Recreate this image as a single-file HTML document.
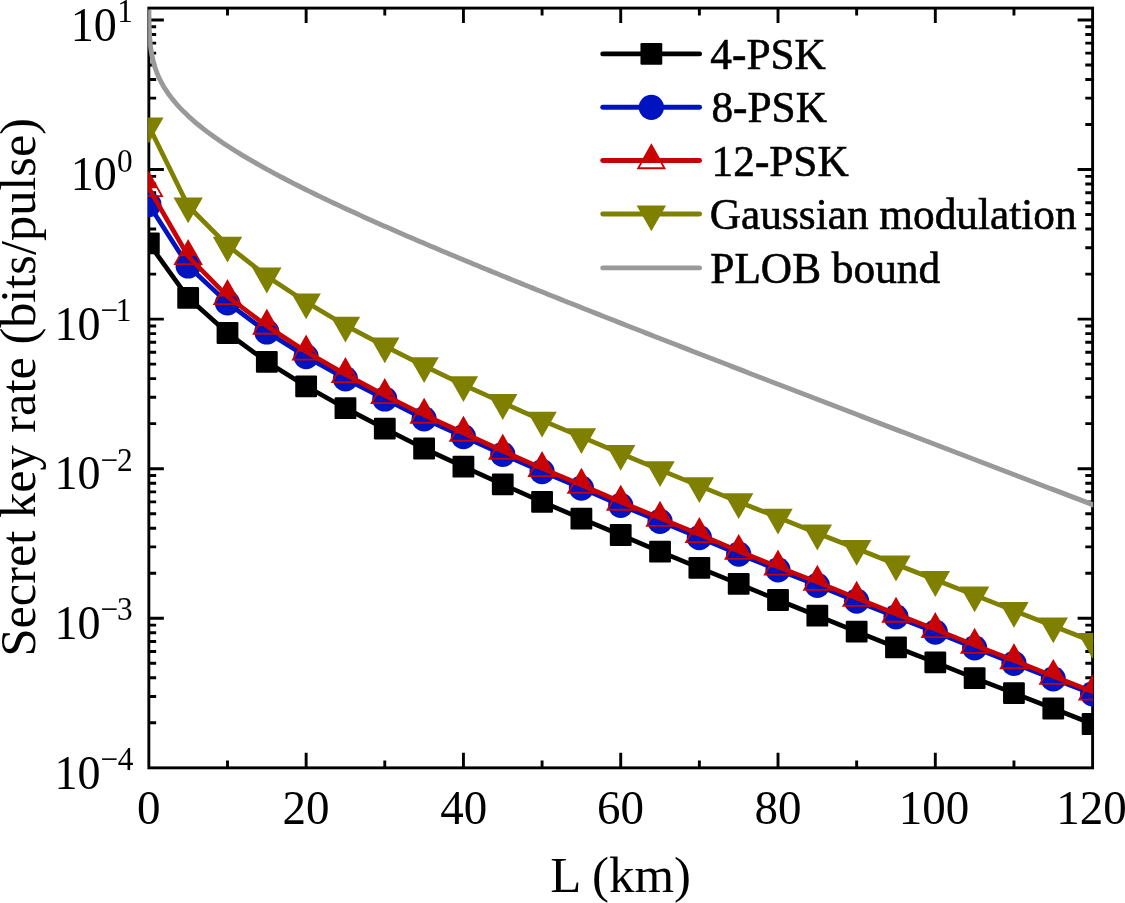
<!DOCTYPE html>
<html><head><meta charset="utf-8"><title>Secret key rate vs L</title>
<style>html,body{margin:0;padding:0;background:#fff;width:1125px;height:903px;overflow:hidden}svg{display:block}text{font-family:"Liberation Serif","Times New Roman",serif;fill:#000}</style>
</head><body>
<svg width="1125" height="903" viewBox="0 0 1125 903">
<rect width="1125" height="903" fill="#fff"/>
<defs><clipPath id="c"><rect x="148.1" y="9.5" width="945.1" height="757.9"/></clipPath></defs>
<path d="M227.5 767.85v-7.3 M227.5 8.1v7.3 M306.14 767.85v-15 M306.14 8.1v15 M384.79 767.85v-7.3 M384.79 8.1v7.3 M463.43 767.85v-15 M463.43 8.1v15 M542.08 767.85v-7.3 M542.08 8.1v7.3 M620.72 767.85v-15 M620.72 8.1v15 M699.37 767.85v-7.3 M699.37 8.1v7.3 M778.02 767.85v-15 M778.02 8.1v15 M856.66 767.85v-7.3 M856.66 8.1v7.3 M935.31 767.85v-15 M935.31 8.1v15 M1013.95 767.85v-7.3 M1013.95 8.1v7.3 M148.85 722.82h7.3 M1092.6 722.82h-7.3 M148.85 696.48h7.3 M1092.6 696.48h-7.3 M148.85 677.79h7.3 M1092.6 677.79h-7.3 M148.85 663.3h7.3 M1092.6 663.3h-7.3 M148.85 651.45h7.3 M1092.6 651.45h-7.3 M148.85 641.44h7.3 M1092.6 641.44h-7.3 M148.85 632.76h7.3 M1092.6 632.76h-7.3 M148.85 625.11h7.3 M1092.6 625.11h-7.3 M148.85 618.27h15 M1092.6 618.27h-15 M148.85 573.24h7.3 M1092.6 573.24h-7.3 M148.85 546.9h7.3 M1092.6 546.9h-7.3 M148.85 528.21h7.3 M1092.6 528.21h-7.3 M148.85 513.72h7.3 M1092.6 513.72h-7.3 M148.85 501.87h7.3 M1092.6 501.87h-7.3 M148.85 491.86h7.3 M1092.6 491.86h-7.3 M148.85 483.18h7.3 M1092.6 483.18h-7.3 M148.85 475.53h7.3 M1092.6 475.53h-7.3 M148.85 468.69h15 M1092.6 468.69h-15 M148.85 423.66h7.3 M1092.6 423.66h-7.3 M148.85 397.32h7.3 M1092.6 397.32h-7.3 M148.85 378.63h7.3 M1092.6 378.63h-7.3 M148.85 364.13h7.3 M1092.6 364.13h-7.3 M148.85 352.29h7.3 M1092.6 352.29h-7.3 M148.85 342.28h7.3 M1092.6 342.28h-7.3 M148.85 333.6h7.3 M1092.6 333.6h-7.3 M148.85 325.95h7.3 M1092.6 325.95h-7.3 M148.85 319.11h15 M1092.6 319.11h-15 M148.85 274.08h7.3 M1092.6 274.08h-7.3 M148.85 247.74h7.3 M1092.6 247.74h-7.3 M148.85 229.05h7.3 M1092.6 229.05h-7.3 M148.85 214.55h7.3 M1092.6 214.55h-7.3 M148.85 202.71h7.3 M1092.6 202.71h-7.3 M148.85 192.7h7.3 M1092.6 192.7h-7.3 M148.85 184.02h7.3 M1092.6 184.02h-7.3 M148.85 176.37h7.3 M1092.6 176.37h-7.3 M148.85 169.53h15 M1092.6 169.53h-15 M148.85 124.5h7.3 M1092.6 124.5h-7.3 M148.85 98.16h7.3 M1092.6 98.16h-7.3 M148.85 79.47h7.3 M1092.6 79.47h-7.3 M148.85 64.97h7.3 M1092.6 64.97h-7.3 M148.85 53.13h7.3 M1092.6 53.13h-7.3 M148.85 43.11h7.3 M1092.6 43.11h-7.3 M148.85 34.44h7.3 M1092.6 34.44h-7.3 M148.85 26.79h7.3 M1092.6 26.79h-7.3 M148.85 19.94h15 M1092.6 19.94h-15" fill="none" stroke="#000" stroke-width="2.9"/><rect x="148.85" y="8.1" width="943.75" height="759.75" fill="none" stroke="#000" stroke-width="2.9"/>
<g clip-path="url(#c)"><polyline points="148.89,6.83 148.89,7.31 148.89,7.78 148.89,8.27 148.9,8.75 148.9,9.24 148.9,9.73 148.9,10.23 148.91,10.73 148.91,11.23 148.92,11.74 148.92,12.25 148.92,12.77 148.93,13.29 148.93,13.81 148.94,14.34 148.95,14.87 148.95,15.41 148.96,15.95 148.96,16.5 148.97,17.05 148.98,17.61 148.99,18.17 149,18.73 149.01,19.3 149.02,19.88 149.03,20.46 149.04,21.04 149.05,21.63 149.06,22.23 149.08,22.83 149.09,23.44 149.11,24.05 149.12,24.67 149.14,25.3 149.16,25.93 149.18,26.56 149.2,27.21 149.22,27.86 149.24,28.51 149.44,32.95 149.63,36.29 149.83,39.02 150.02,41.33 150.21,43.36 150.41,45.16 150.6,46.8 150.8,48.29 150.99,49.68 151.18,50.97 151.38,52.18 151.57,53.32 151.77,54.4 151.96,55.42 152.16,56.4 152.35,57.34 152.54,58.23 152.74,59.09 152.93,59.92 153.13,60.73 153.32,61.5 153.51,62.25 153.71,62.98 153.9,63.68 154.1,64.37 154.29,65.04 154.48,65.69 154.68,66.32 154.87,66.94 155.07,67.54 155.26,68.14 155.46,68.71 155.65,69.28 155.84,69.84 156.04,70.38 156.23,70.91 156.43,71.44 156.62,71.95 156.81,72.46 157.01,72.95 157.2,73.44 157.4,73.92 157.59,74.39 157.78,74.86 157.98,75.32 158.17,75.77 158.37,76.21 158.56,76.65 158.76,77.09 158.95,77.51 159.14,77.93 159.34,78.35 159.53,78.76 159.73,79.17 159.92,79.57 160.11,79.96 160.31,80.36 160.5,80.74 160.7,81.12 160.89,81.5 161.08,81.88 161.28,82.25 161.47,82.61 161.67,82.98 161.86,83.33 162.06,83.69 162.25,84.04 162.44,84.39 162.64,84.74 162.83,85.08 163.03,85.42 163.22,85.75 163.41,86.08 163.61,86.41 163.8,86.74 164,87.07 164.19,87.39 164.39,87.71 164.58,88.02 168.5,93.92 172.41,99.12 176.33,103.8 180.24,108.1 184.16,112.1 188.07,115.85 191.99,119.39 195.91,122.77 199.82,126 203.74,129.1 207.65,132.09 211.57,134.98 215.49,137.78 219.4,140.51 223.32,143.16 227.23,145.75 231.15,148.28 235.06,150.76 238.98,153.18 242.9,155.56 246.81,157.9 250.73,160.21 254.64,162.47 258.56,164.7 262.48,166.9 266.39,169.07 270.31,171.21 274.22,173.32 278.14,175.41 282.05,177.48 285.97,179.53 289.89,181.55 293.8,183.56 297.72,185.54 301.63,187.51 305.55,189.46 309.47,191.4 313.38,193.32 317.3,195.22 321.21,197.11 325.13,198.99 329.04,200.86 332.96,202.71 336.88,204.55 340.79,206.38 344.71,208.2 348.62,210.01 352.54,211.81 356.46,213.6 360.37,215.38 364.29,217.15 368.2,218.91 372.12,220.67 376.03,222.42 379.95,224.16 383.87,225.89 387.78,227.61 391.7,229.33 395.61,231.04 399.53,232.75 403.45,234.45 407.36,236.14 411.28,237.83 415.19,239.52 419.11,241.19 423.02,242.86 426.94,244.53 430.86,246.19 434.77,247.85 438.69,249.51 442.6,251.15 446.52,252.8 450.44,254.44 454.35,256.08 458.27,257.71 462.18,259.34 466.1,260.96 470.01,262.58 473.93,264.2 477.85,265.82 481.76,267.43 485.68,269.04 489.59,270.64 493.51,272.24 497.43,273.84 501.34,275.44 505.26,277.04 509.17,278.63 513.09,280.22 517,281.8 520.92,283.39 524.84,284.97 528.75,286.55 532.67,288.12 536.58,289.7 540.5,291.27 544.42,292.84 548.33,294.41 552.25,295.98 556.16,297.54 560.08,299.1 563.99,300.67 567.91,302.23 571.83,303.78 575.74,305.34 579.66,306.89 583.57,308.45 587.49,310 591.41,311.55 595.32,313.1 599.24,314.64 603.15,316.19 607.07,317.73 610.98,319.28 614.9,320.82 618.82,322.36 622.73,323.9 626.65,325.43 630.56,326.97 634.48,328.51 638.4,330.04 642.31,331.58 646.23,333.11 650.14,334.64 654.06,336.17 657.97,337.7 661.89,339.23 665.81,340.76 669.72,342.28 673.64,343.81 677.55,345.33 681.47,346.86 685.39,348.38 689.3,349.9 693.22,351.42 697.13,352.95 701.05,354.47 704.96,355.99 708.88,357.5 712.8,359.02 716.71,360.54 720.63,362.06 724.54,363.57 728.46,365.09 732.38,366.6 736.29,368.12 740.21,369.63 744.12,371.14 748.04,372.66 751.95,374.17 755.87,375.68 759.79,377.19 763.7,378.7 767.62,380.21 771.53,381.72 775.45,383.23 779.37,384.74 783.28,386.25 787.2,387.76 791.11,389.26 795.03,390.77 798.95,392.28 802.86,393.78 806.78,395.29 810.69,396.8 814.61,398.3 818.52,399.81 822.44,401.31 826.36,402.81 830.27,404.32 834.19,405.82 838.1,407.32 842.02,408.83 845.94,410.33 849.85,411.83 853.77,413.33 857.68,414.83 861.6,416.34 865.51,417.84 869.43,419.34 873.35,420.84 877.26,422.34 881.18,423.84 885.09,425.34 889.01,426.84 892.93,428.34 896.84,429.84 900.76,431.34 904.67,432.83 908.59,434.33 912.5,435.83 916.42,437.33 920.34,438.83 924.25,440.32 928.17,441.82 932.08,443.32 936,444.82 939.92,446.31 943.83,447.81 947.75,449.31 951.66,450.8 955.58,452.3 959.49,453.8 963.41,455.29 967.33,456.79 971.24,458.28 975.16,459.78 979.07,461.27 982.99,462.77 986.91,464.26 990.82,465.76 994.74,467.25 998.65,468.75 1002.57,470.24 1006.48,471.74 1010.4,473.23 1014.32,474.73 1018.23,476.22 1022.15,477.72 1026.06,479.21 1029.98,480.7 1033.9,482.2 1037.81,483.69 1041.73,485.18 1045.64,486.68 1049.56,488.17 1053.47,489.66 1057.39,491.16 1061.31,492.65 1065.22,494.14 1069.14,495.64 1073.05,497.13 1076.97,498.62 1080.89,500.12 1084.8,501.61 1088.72,503.1 1092.63,504.59 1096.55,506.09 1100.46,507.58" fill="none" stroke="#999999" stroke-width="4.9" stroke-linejoin="round" stroke-linecap="butt"/><polyline points="148.85,243.3 188.17,297.8 227.5,333 266.82,361.8 306.14,386.3 345.46,408.2 384.79,428.6 424.11,448.5 463.43,466.7 502.76,484.4 542.08,501.8 581.4,518.6 620.72,535 660.05,551.6 699.37,567.9 738.69,583.9 778.02,600 817.34,615.7 856.66,631.6 895.99,647.3 935.31,662.4 974.63,678.1 1013.95,693.1 1053.28,708.5 1092.6,724" fill="none" stroke="#000000" stroke-width="4.7" stroke-linejoin="round" stroke-linecap="round"/><g fill="#000000"><rect x="137.95" y="232.4" width="21.8" height="21.8" rx="1.2"/><rect x="177.27" y="286.9" width="21.8" height="21.8" rx="1.2"/><rect x="216.6" y="322.1" width="21.8" height="21.8" rx="1.2"/><rect x="255.92" y="350.9" width="21.8" height="21.8" rx="1.2"/><rect x="295.24" y="375.4" width="21.8" height="21.8" rx="1.2"/><rect x="334.56" y="397.3" width="21.8" height="21.8" rx="1.2"/><rect x="373.89" y="417.7" width="21.8" height="21.8" rx="1.2"/><rect x="413.21" y="437.6" width="21.8" height="21.8" rx="1.2"/><rect x="452.53" y="455.8" width="21.8" height="21.8" rx="1.2"/><rect x="491.86" y="473.5" width="21.8" height="21.8" rx="1.2"/><rect x="531.18" y="490.9" width="21.8" height="21.8" rx="1.2"/><rect x="570.5" y="507.7" width="21.8" height="21.8" rx="1.2"/><rect x="609.82" y="524.1" width="21.8" height="21.8" rx="1.2"/><rect x="649.15" y="540.7" width="21.8" height="21.8" rx="1.2"/><rect x="688.47" y="557" width="21.8" height="21.8" rx="1.2"/><rect x="727.79" y="573" width="21.8" height="21.8" rx="1.2"/><rect x="767.12" y="589.1" width="21.8" height="21.8" rx="1.2"/><rect x="806.44" y="604.8" width="21.8" height="21.8" rx="1.2"/><rect x="845.76" y="620.7" width="21.8" height="21.8" rx="1.2"/><rect x="885.09" y="636.4" width="21.8" height="21.8" rx="1.2"/><rect x="924.41" y="651.5" width="21.8" height="21.8" rx="1.2"/><rect x="963.73" y="667.2" width="21.8" height="21.8" rx="1.2"/><rect x="1003.05" y="682.2" width="21.8" height="21.8" rx="1.2"/><rect x="1042.38" y="697.6" width="21.8" height="21.8" rx="1.2"/><rect x="1081.7" y="713.1" width="21.8" height="21.8" rx="1.2"/></g><polyline points="148.85,204.5 188.17,266 227.5,302.9 266.82,332 306.14,356.6 345.46,378.8 384.79,399 424.11,418.8 463.43,436.6 502.76,454.3 542.08,471.6 581.4,488.1 620.72,505.3 660.05,521.4 699.37,537.7 738.69,554.2 778.02,569.8 817.34,585.3 856.66,601.2 895.99,616.8 935.31,632.1 974.63,647.8 1013.95,663.3 1053.28,678.9 1092.6,693.8" fill="none" stroke="#0013C0" stroke-width="4.7" stroke-linejoin="round" stroke-linecap="round"/><g fill="#0013C0"><circle cx="148.85" cy="204.5" r="12.6"/><circle cx="188.17" cy="266" r="12.6"/><circle cx="227.5" cy="302.9" r="12.6"/><circle cx="266.82" cy="332" r="12.6"/><circle cx="306.14" cy="356.6" r="12.6"/><circle cx="345.46" cy="378.8" r="12.6"/><circle cx="384.79" cy="399" r="12.6"/><circle cx="424.11" cy="418.8" r="12.6"/><circle cx="463.43" cy="436.6" r="12.6"/><circle cx="502.76" cy="454.3" r="12.6"/><circle cx="542.08" cy="471.6" r="12.6"/><circle cx="581.4" cy="488.1" r="12.6"/><circle cx="620.72" cy="505.3" r="12.6"/><circle cx="660.05" cy="521.4" r="12.6"/><circle cx="699.37" cy="537.7" r="12.6"/><circle cx="738.69" cy="554.2" r="12.6"/><circle cx="778.02" cy="569.8" r="12.6"/><circle cx="817.34" cy="585.3" r="12.6"/><circle cx="856.66" cy="601.2" r="12.6"/><circle cx="895.99" cy="616.8" r="12.6"/><circle cx="935.31" cy="632.1" r="12.6"/><circle cx="974.63" cy="647.8" r="12.6"/><circle cx="1013.95" cy="663.3" r="12.6"/><circle cx="1053.28" cy="678.9" r="12.6"/><circle cx="1092.6" cy="693.8" r="12.6"/></g><polyline points="148.85,188.3 188.17,256.3 227.5,296.4 266.82,326 306.14,351.8 345.46,374.4 384.79,395.3 424.11,415 463.43,433 502.76,451 542.08,468.4 581.4,485 620.72,502 660.05,518.1 699.37,534.4 738.69,551.2 778.02,566.9 817.34,582.1 856.66,598.1 895.99,614 935.31,629.4 974.63,645.1 1013.95,660.5 1053.28,676.2 1092.6,691.8" fill="none" stroke="#C90303" stroke-width="4.7" stroke-linejoin="round" stroke-linecap="round"/><g fill="#C90303" stroke="#C90303" stroke-linejoin="miter"><polygon points="148.85,172.83 162.05,196.03 135.65,196.03" fill="none" stroke-width="1.8"/><polygon points="148.85,172.83 157.65,188.3 140.05,188.3" stroke="none"/><polygon points="188.17,240.83 201.37,264.03 174.97,264.03" fill="none" stroke-width="1.8"/><polygon points="188.17,240.83 196.97,256.3 179.37,256.3" stroke="none"/><polygon points="227.5,280.93 240.7,304.13 214.3,304.13" fill="none" stroke-width="1.8"/><polygon points="227.5,280.93 236.3,296.4 218.7,296.4" stroke="none"/><polygon points="266.82,310.53 280.02,333.73 253.62,333.73" fill="none" stroke-width="1.8"/><polygon points="266.82,310.53 275.62,326 258.02,326" stroke="none"/><polygon points="306.14,336.33 319.34,359.53 292.94,359.53" fill="none" stroke-width="1.8"/><polygon points="306.14,336.33 314.94,351.8 297.34,351.8" stroke="none"/><polygon points="345.46,358.93 358.66,382.13 332.26,382.13" fill="none" stroke-width="1.8"/><polygon points="345.46,358.93 354.26,374.4 336.66,374.4" stroke="none"/><polygon points="384.79,379.83 397.99,403.03 371.59,403.03" fill="none" stroke-width="1.8"/><polygon points="384.79,379.83 393.59,395.3 375.99,395.3" stroke="none"/><polygon points="424.11,399.53 437.31,422.73 410.91,422.73" fill="none" stroke-width="1.8"/><polygon points="424.11,399.53 432.91,415 415.31,415" stroke="none"/><polygon points="463.43,417.53 476.63,440.73 450.23,440.73" fill="none" stroke-width="1.8"/><polygon points="463.43,417.53 472.23,433 454.63,433" stroke="none"/><polygon points="502.76,435.53 515.96,458.73 489.56,458.73" fill="none" stroke-width="1.8"/><polygon points="502.76,435.53 511.56,451 493.96,451" stroke="none"/><polygon points="542.08,452.93 555.28,476.13 528.88,476.13" fill="none" stroke-width="1.8"/><polygon points="542.08,452.93 550.88,468.4 533.28,468.4" stroke="none"/><polygon points="581.4,469.53 594.6,492.73 568.2,492.73" fill="none" stroke-width="1.8"/><polygon points="581.4,469.53 590.2,485 572.6,485" stroke="none"/><polygon points="620.72,486.53 633.92,509.73 607.52,509.73" fill="none" stroke-width="1.8"/><polygon points="620.72,486.53 629.52,502 611.92,502" stroke="none"/><polygon points="660.05,502.63 673.25,525.83 646.85,525.83" fill="none" stroke-width="1.8"/><polygon points="660.05,502.63 668.85,518.1 651.25,518.1" stroke="none"/><polygon points="699.37,518.93 712.57,542.13 686.17,542.13" fill="none" stroke-width="1.8"/><polygon points="699.37,518.93 708.17,534.4 690.57,534.4" stroke="none"/><polygon points="738.69,535.73 751.89,558.93 725.49,558.93" fill="none" stroke-width="1.8"/><polygon points="738.69,535.73 747.49,551.2 729.89,551.2" stroke="none"/><polygon points="778.02,551.43 791.22,574.63 764.82,574.63" fill="none" stroke-width="1.8"/><polygon points="778.02,551.43 786.82,566.9 769.22,566.9" stroke="none"/><polygon points="817.34,566.63 830.54,589.83 804.14,589.83" fill="none" stroke-width="1.8"/><polygon points="817.34,566.63 826.14,582.1 808.54,582.1" stroke="none"/><polygon points="856.66,582.63 869.86,605.83 843.46,605.83" fill="none" stroke-width="1.8"/><polygon points="856.66,582.63 865.46,598.1 847.86,598.1" stroke="none"/><polygon points="895.99,598.53 909.19,621.73 882.79,621.73" fill="none" stroke-width="1.8"/><polygon points="895.99,598.53 904.79,614 887.19,614" stroke="none"/><polygon points="935.31,613.93 948.51,637.13 922.11,637.13" fill="none" stroke-width="1.8"/><polygon points="935.31,613.93 944.11,629.4 926.51,629.4" stroke="none"/><polygon points="974.63,629.63 987.83,652.83 961.43,652.83" fill="none" stroke-width="1.8"/><polygon points="974.63,629.63 983.43,645.1 965.83,645.1" stroke="none"/><polygon points="1013.95,645.03 1027.15,668.23 1000.75,668.23" fill="none" stroke-width="1.8"/><polygon points="1013.95,645.03 1022.75,660.5 1005.15,660.5" stroke="none"/><polygon points="1053.28,660.73 1066.48,683.93 1040.08,683.93" fill="none" stroke-width="1.8"/><polygon points="1053.28,660.73 1062.08,676.2 1044.48,676.2" stroke="none"/><polygon points="1092.6,676.33 1105.8,699.53 1079.4,699.53" fill="none" stroke-width="1.8"/><polygon points="1092.6,676.33 1101.4,691.8 1083.8,691.8" stroke="none"/></g><polyline points="148.85,126.1 188.17,206 227.5,245.4 266.82,276.2 306.14,302.1 345.46,325.4 384.79,346.1 424.11,365.9 463.43,384.8 502.76,402.7 542.08,420.4 581.4,436.9 620.72,453.5 660.05,469.9 699.37,485.9 738.69,501.9 778.02,517.4 817.34,533.2 856.66,548.5 895.99,564.2 935.31,579.7 974.63,595.1 1013.95,610.6 1053.28,626 1092.6,641.5" fill="none" stroke="#808000" stroke-width="4.7" stroke-linejoin="round" stroke-linecap="round"/><g fill="#808000"><polygon points="134.15,117.5 163.55,117.5 148.85,143.3"/><polygon points="173.47,197.4 202.87,197.4 188.17,223.2"/><polygon points="212.8,236.8 242.2,236.8 227.5,262.6"/><polygon points="252.12,267.6 281.52,267.6 266.82,293.4"/><polygon points="291.44,293.5 320.84,293.5 306.14,319.3"/><polygon points="330.76,316.8 360.16,316.8 345.46,342.6"/><polygon points="370.09,337.5 399.49,337.5 384.79,363.3"/><polygon points="409.41,357.3 438.81,357.3 424.11,383.1"/><polygon points="448.73,376.2 478.13,376.2 463.43,402"/><polygon points="488.06,394.1 517.46,394.1 502.76,419.9"/><polygon points="527.38,411.8 556.78,411.8 542.08,437.6"/><polygon points="566.7,428.3 596.1,428.3 581.4,454.1"/><polygon points="606.02,444.9 635.42,444.9 620.72,470.7"/><polygon points="645.35,461.3 674.75,461.3 660.05,487.1"/><polygon points="684.67,477.3 714.07,477.3 699.37,503.1"/><polygon points="723.99,493.3 753.39,493.3 738.69,519.1"/><polygon points="763.32,508.8 792.72,508.8 778.02,534.6"/><polygon points="802.64,524.6 832.04,524.6 817.34,550.4"/><polygon points="841.96,539.9 871.36,539.9 856.66,565.7"/><polygon points="881.29,555.6 910.69,555.6 895.99,581.4"/><polygon points="920.61,571.1 950.01,571.1 935.31,596.9"/><polygon points="959.93,586.5 989.33,586.5 974.63,612.3"/><polygon points="999.25,602 1028.65,602 1013.95,627.8"/><polygon points="1038.58,617.4 1067.98,617.4 1053.28,643.2"/><polygon points="1077.9,632.9 1107.3,632.9 1092.6,658.7"/></g></g>
<text transform="scale(0.97,1)" x="141.33" y="823.9" font-size="48.5">0</text><text transform="scale(0.97,1)" x="291.22" y="823.9" font-size="48.5">20</text><text transform="scale(0.97,1)" x="453.97" y="823.9" font-size="48.5">40</text><text transform="scale(0.97,1)" x="615.55" y="823.9" font-size="48.5">60</text><text transform="scale(0.97,1)" x="777.83" y="823.9" font-size="48.5">80</text><text transform="scale(0.97,1)" x="926.65" y="823.9" font-size="48.5">100</text><text transform="scale(0.97,1)" x="1088.81" y="823.9" font-size="48.5">120</text><text transform="scale(0.96,1)" x="56.85" y="788.65" font-size="48">10</text><text transform="scale(0.95,1)" x="105.72" y="769.85" font-size="33">−</text><text transform="scale(0.95,1)" x="124.09" y="769.85" font-size="33">4</text><text transform="scale(0.96,1)" x="56.85" y="639.07" font-size="48">10</text><text transform="scale(0.95,1)" x="105.72" y="620.27" font-size="33">−</text><text transform="scale(0.95,1)" x="123.16" y="620.27" font-size="33">3</text><text transform="scale(0.96,1)" x="56.85" y="489.49" font-size="48">10</text><text transform="scale(0.95,1)" x="105.72" y="470.69" font-size="33">−</text><text transform="scale(0.95,1)" x="123.29" y="470.69" font-size="33">2</text><text transform="scale(0.96,1)" x="56.85" y="339.91" font-size="48">10</text><text transform="scale(0.95,1)" x="105.72" y="321.11" font-size="33">−</text><text transform="scale(0.95,1)" x="121.84" y="321.11" font-size="33">1</text><text transform="scale(0.96,1)" x="73.6" y="190.33" font-size="48">10</text><text transform="scale(0.95,1)" x="123.16" y="171.53" font-size="33">0</text><text transform="scale(0.96,1)" x="73.6" y="40.74" font-size="48">10</text><text transform="scale(0.95,1)" x="123.42" y="21.94" font-size="33">1</text><text x="550.13" y="892.4" font-size="50.9">L (km)</text><text transform="translate(35.2,656.57) rotate(-90)" x="0" y="0" font-size="50.4">Secret key rate (bits/pulse)</text>
<path d="M602.7 53.9H699.6" stroke="#000000" stroke-width="4.9" stroke-linecap="round"/><g fill="#000000"><rect x="640.45" y="43" width="21.8" height="21.8" rx="1.2"/></g><text x="710.35" y="68.75" font-size="43.3" stroke="#000" stroke-width="0.6">4-PSK</text><path d="M602.7 107.3H699.6" stroke="#0013C0" stroke-width="4.9" stroke-linecap="round"/><g fill="#0013C0"><circle cx="651.35" cy="107.3" r="12.6"/></g><text x="711.45" y="122.25" font-size="43.3" stroke="#000" stroke-width="0.6">8-PSK</text><path d="M602.7 160.5H699.6" stroke="#C90303" stroke-width="4.9" stroke-linecap="round"/><g fill="#C90303" stroke="#C90303"><polygon points="651.35,145.03 664.55,168.23 638.15,168.23" fill="none" stroke-width="1.8"/><polygon points="651.35,145.03 660.15,160.5 642.55,160.5" stroke="none"/></g><text x="711.59" y="175.7" font-size="43.3" stroke="#000" stroke-width="0.6">12-PSK</text><path d="M602.7 214H699.6" stroke="#808000" stroke-width="4.9" stroke-linecap="round"/><g fill="#808000"><polygon points="636.65,205.4 666.05,205.4 651.35,231.2"/></g><text x="709.82" y="229" font-size="43.3" stroke="#000" stroke-width="0.6">Gaussian modulation</text><path d="M602.7 267.9H699.6" stroke="#999999" stroke-width="4.9" stroke-linecap="round"/><text x="710.35" y="282.7" font-size="43.3" stroke="#000" stroke-width="0.6">PLOB bound</text>
</svg>
</body></html>
